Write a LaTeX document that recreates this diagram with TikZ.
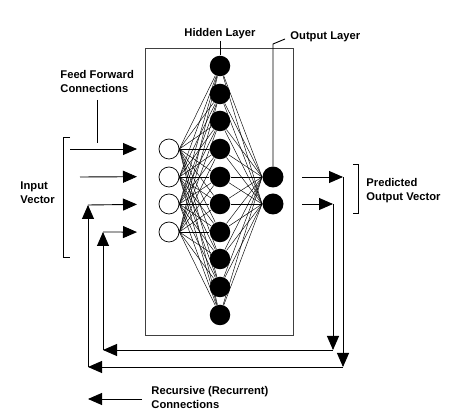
\documentclass[tikz,border=0pt]{standalone}
\usepackage{fontspec}
\setmainfont{Liberation Sans}
\usetikzlibrary{arrows.meta}
\begin{document}
\begin{tikzpicture}[x=1pt,y=-1pt,
  line width=0.9pt,
  lbl/.style={anchor=base west,inner sep=0pt,align=left,font=\fontsize{11.2}{14}\selectfont\bfseries},
  innode/.style={circle,draw,fill=white,minimum size=20pt,inner sep=0pt,line width=0.7pt},
  hidnode/.style={circle,fill=black,minimum size=20.5pt,inner sep=0pt},
  outnode/.style={circle,fill=black,minimum size=21pt,inner sep=0pt},
  conn/.style={line width=0.45pt},
  arr/.style={-{Triangle[length=14pt,width=12pt]}},
  frame/.style={draw=black!75,line width=0.8pt}]
\useasboundingbox (0,0) rectangle (451,419);
\fill[white] (0,0) rectangle (451,419);
% network box
\node[frame,minimum width=148pt,minimum height=287pt,inner sep=0pt,anchor=north west] (box) at (145,48) {};
% nodes
\foreach \i/\y in {1/149,2/177,3/204,4/232} \node[innode] (in\i) at (169,\y) {};
\foreach \j/\y in {1/66,2/94,3/121,4/149,5/177,6/204,7/232,8/259,9/287,10/315} \node[hidnode] (h\j) at (220,\y) {};
\node[outnode] (o1) at (273,177) {};
\node[outnode] (o2) at (273,204) {};
% connections
\foreach \i in {1,...,4}\foreach \j in {1,...,10} \draw[conn] (in\i.east) -- (h\j);
\foreach \j in {1,...,10}\foreach \k in {1,2} \draw[conn] (h\j) -- (o\k.west);
% labels (base = last line)
\node[lbl] (hl) at (184,37) {Hidden Layer};
\node[lbl] (ol) at (290,40) {Output Layer};
\node[lbl] (ff) at (60,93) {Feed Forward\\Connections};
\node[lbl] (iv) at (20,204) {Input\\Vector};
\node[lbl] (pv) at (366,201) {Predicted\\Output Vector};
\node[lbl] (rc) at (151,409) {Recursive (Recurrent)\\Connections};
% label connectors
\coordinate (hlb) at (220,41);
\draw (hlb) -- (h1);
\coordinate (olb) at (285,39);
\coordinate (olk) at (273,44);
\draw (olb) -- (olk) -- (o1.north);
\coordinate (ffa) at (97,100);
\coordinate (ffb) at (97,143);
\draw (ffa) -- (ffb);
% input bracket
\coordinate (ib1) at (70,137);
\coordinate (ib2) at (70,257);
\draw (ib1) -- ++(-7,0) |- (ib2);
% output bracket
\coordinate (ob1) at (353,164);
\coordinate (ob2) at (353,213);
\draw (ob1) -- ++(5,0) |- (ob2);
% input arrows
\coordinate (s1) at (70,149);
\coordinate (s2) at (80,177);
\foreach \k in {1,...,4} \coordinate (t\k) at (137,{149+27.7*(\k-1)});
\draw[arr] (s1) -- (t1);
\draw[arr] (s2) -- (t2);
% output 1 recurrent loop
\coordinate (a1) at (302,177);
\coordinate (c1) at (343,177);
\coordinate (c2) at (343,367);
\coordinate (c3) at (88,367);
\coordinate (c4) at (88,205);
\draw[arr] (a1) -- (c1);
\draw[arr] (c1) -- (c2);
\draw[arr] (c2) -- (c3);
\draw[arr] (c3) -- (c4);
\draw[arr] (c4) -- (t3);
% output 2 recurrent loop
\coordinate (a2) at (302,204);
\coordinate (d1) at (333,204);
\coordinate (d2) at (333,350);
\coordinate (d3) at (103,350);
\coordinate (d4) at (103,232);
\draw[arr] (a2) -- (d1);
\draw[arr] (d1) -- (d2);
\draw[arr] (d2) -- (d3);
\draw[arr] (d3) -- (d4);
\draw[arr] (d4) -- (t4);
% legend arrow
\coordinate (la) at (142,399);
\coordinate (lb) at (88,399);
\draw[arr] (la) -- (lb);
\end{tikzpicture}
\end{document}
